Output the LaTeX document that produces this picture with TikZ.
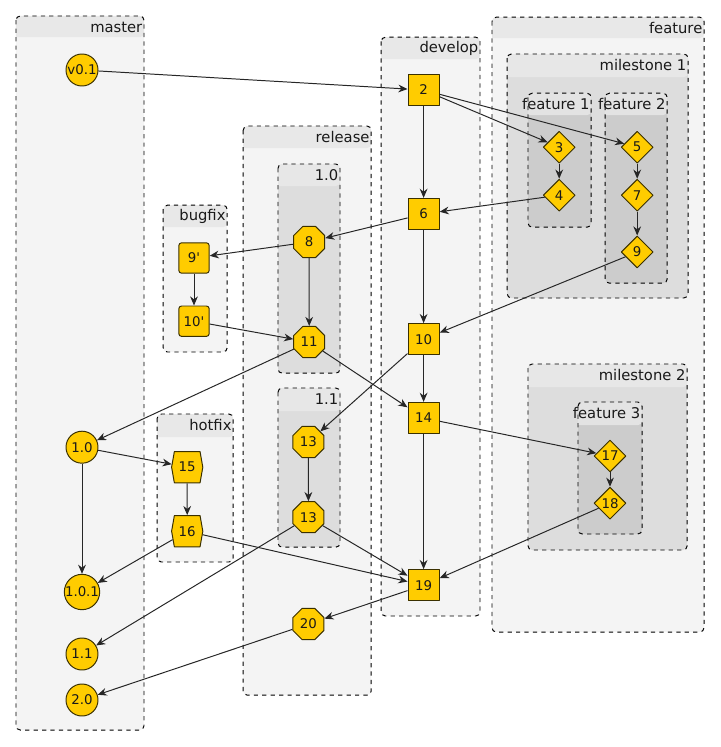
\documentclass[tikz,border=0pt]{standalone}
\usepackage{fontspec}
\setmainfont{DejaVu Sans}
\usetikzlibrary{shapes.geometric,shapes.symbols,arrows.meta}
\definecolor{commit}{HTML}{FFCC00}
\definecolor{commitline}{HTML}{3A3000}
\definecolor{bodyA}{HTML}{F4F4F4}
\definecolor{headA}{HTML}{E8E8E8}
\definecolor{bodyB}{HTML}{DDDDDD}
\definecolor{headB}{HTML}{E7E7E7}
\definecolor{bodyC}{HTML}{CCCCCC}
\definecolor{headC}{HTML}{E3E3E3}
\begin{document}
\begin{tikzpicture}[x=1cm,y=1cm,line join=round,
  commitbase/.style={draw=commitline,fill=commit,line width=0.7pt,inner sep=0pt,
    text=black!90,font=\fontsize{9.5}{10}\selectfont},
  tag/.style={commitbase,circle,minimum size=0.80cm},
  devcommit/.style={commitbase,rectangle,minimum size=0.78cm},
  relcommit/.style={commitbase,regular polygon,regular polygon sides=8,minimum size=0.84cm},
  fixcommit/.style={commitbase,rectangle,rounded corners=2pt,minimum size=0.76cm},
  hotcommit/.style={commitbase,signal,signal to=west and east,signal pointer angle=160,
    minimum width=0.78cm,minimum height=0.78cm},
  featcommit/.style={commitbase,diamond,minimum size=0.80cm},
  lanetitle/.style={anchor=north east,minimum height=0.55cm,inner sep=1pt,
    text=black!90,font=\fontsize{10.5}{12}\selectfont},
  flow/.style={-{Stealth[length=6.5pt,width=5.5pt]},line width=0.7pt,draw=black!85}]
  \useasboundingbox (0,0) rectangle (18,-18.675);
  % lanes: left/top/right/bottom/header bottom/level/name/title
  \foreach \xa/\ya/\xb/\yb/\yh/\lvl/\nm/\txt in {
      0.40/-0.40/3.60/-18.25/-0.93/A/lblmaster/master,
      12.30/-0.43/17.60/-15.80/-0.95/A/lblfeature/feature,
      9.53/-0.93/12.00/-15.40/-1.48/A/lbldevelop/develop,
      6.08/-3.15/9.28/-17.38/-3.70/A/lblrelease/release,
      4.08/-5.13/5.68/-8.80/-5.68/A/lblbugfix/bugfix,
      3.93/-10.35/5.83/-14.05/-10.93/A/lblhotfix/hotfix,
      6.95/-4.10/8.50/-9.33/-4.65/B/lblrelA/1.0,
      6.95/-9.70/8.50/-13.68/-10.28/B/lblrelB/1.1,
      12.68/-1.35/17.20/-7.45/-1.93/B/lblmsA/milestone 1,
      13.20/-9.10/17.18/-13.75/-9.68/B/lblmsB/milestone 2,
      13.20/-2.33/14.78/-5.68/-2.88/C/lblftA/feature 1,
      15.13/-2.33/16.68/-7.08/-2.88/C/lblftB/feature 2,
      14.45/-10.05/16.05/-13.35/-10.63/C/lblftC/feature 3} {
    \fill[body\lvl,rounded corners=3pt] (\xa,\ya) rectangle (\xb,\yb);
    \fill[head\lvl,rounded corners=3pt] (\xa,\yh) |- (\xb,\ya) -- (\xb,\yh) [sharp corners] -- cycle;
    \draw[dashed,line width=0.7pt,rounded corners=3pt] (\xa,\ya) rectangle (\xb,\yb);
    \node[lanetitle] (\nm) at (\xb,\ya) {\txt};
  }
  % master
  \node[tag] (tag01) at (2.05,-1.75) {v0.1};
  \node[tag] (tag10) at (2.05,-11.18) {1.0};
  \node[tag] (tag101) at (2.05,-14.80) {1.0.1};
  \node[tag] (tag11) at (2.05,-16.35) {1.1};
  \node[tag] (tag20) at (2.05,-17.50) {2.0};
  % develop
  \node[devcommit] (dev2) at (10.59,-2.25) {2};
  \node[devcommit] (dev6) at (10.59,-5.35) {6};
  \node[devcommit] (dev10) at (10.59,-8.48) {10};
  \node[devcommit] (dev14) at (10.59,-10.45) {14};
  \node[devcommit] (dev19) at (10.59,-14.63) {19};
  % release
  \node[relcommit] (rel8) at (7.73,-6.05) {8};
  \node[relcommit] (rel11) at (7.73,-8.55) {11};
  \node[relcommit] (rel13a) at (7.71,-11.05) {13};
  \node[relcommit] (rel13b) at (7.71,-12.93) {13};
  \node[relcommit] (rel20) at (7.71,-15.60) {20};
  % bugfix, hotfix
  \node[fixcommit] (fix9) at (4.85,-6.45) {9\textquotesingle};
  \node[fixcommit] (fix10) at (4.85,-8.03) {10\textquotesingle};
  \node[hotcommit] (hot15) at (4.68,-11.68) {15};
  \node[hotcommit] (hot16) at (4.68,-13.28) {16};
  % feature
  \node[featcommit] (ft3) at (13.98,-3.68) {3};
  \node[featcommit] (ft4) at (13.98,-4.88) {4};
  \node[featcommit] (ft5) at (15.93,-3.68) {5};
  \node[featcommit] (ft7) at (15.93,-4.88) {7};
  \node[featcommit] (ft9) at (15.93,-6.30) {9};
  \node[featcommit] (ft17) at (15.25,-11.40) {17};
  \node[featcommit] (ft18) at (15.25,-12.58) {18};
  % history
  \foreach \a/\b in {tag01/dev2, dev2/dev6, dev2/ft3, dev2/ft5, ft3/ft4, ft5/ft7,
      ft7/ft9, ft4/dev6, dev6/rel8, dev6/dev10, ft9/dev10, rel8/fix9, rel8/rel11,
      fix9/fix10, fix10/rel11, rel11/tag10, rel11/dev14, dev10/dev14, dev10/rel13a,
      dev14/ft17, dev14/dev19, ft17/ft18, ft18/dev19, tag10/hot15, tag10/tag101,
      hot15/hot16, hot16/tag101, hot16/dev19, rel13a/rel13b, rel13b/dev19,
      rel13b/tag11, dev19/rel20, rel20/tag20}
    \draw[flow] (\a) -- (\b);
\end{tikzpicture}
\end{document}
